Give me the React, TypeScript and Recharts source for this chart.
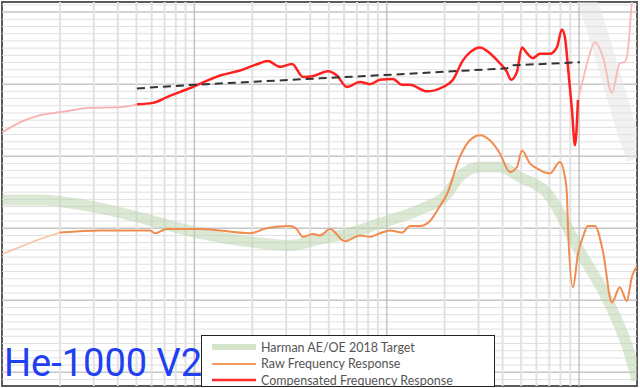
import React from 'react';
import { LineChart, Line, XAxis, YAxis, ReferenceLine, ReferenceArea } from 'recharts';

// frequency (Hz), level (dB)
const targetBand: [number, number][] = [
  [10, -6.1], [15.8, -6.1], [22.6, -6.5], [32.3, -7.2], [58.8, -8.9], [107, -10.7],
  [195, -11.9], [314, -12.4], [450, -11.5], [644, -10.7], [900, -9.4], [1489, -7.4],
  [2056, -5.3], [2400, -2.8], [3050, -1.5], [3873, -1.5], [4920, -2.9], [6800, -5.1],
  [10100, -13.2], [14460, -20.6], [18360, -27.5], [20000, -31.1],
];

const grayBand: [number, number][] = [
  [10720, 22.4], [12530, 17.1], [14130, 12.4], [15920, 7.8], [17940, 3.2], [20000, -0.3],
];

const rawFaded: [number, number][] = [
  [10, -13.6], [12.4, -12.6], [15.8, -11.5], [20, -10.6],
];

const raw: [number, number][] = [
  [20, -10.6], [32.3, -10.3], [58.8, -10.3], [62.4, -10.7], [72, -10.1], [107, -10.1],
  [195, -10.7], [238, -10.0], [314, -9.7], [340, -10.1], [367, -11.2], [413, -10.8],
  [450, -11.0], [507, -10.1], [606, -11.8], [726, -11.0], [818, -11.2], [922, -10.7],
  [1040, -10.3], [1200, -10.6], [1320, -9.7], [1489, -9.7], [1679, -9.0], [1892, -6.9],
  [2056, -5.3], [2400, -0.1], [2706, 2.2], [3050, 2.9], [3436, 2.2], [3873, 0.4],
  [4366, -2.2], [4752, -1.5], [5045, 0.8], [5550, -1.0], [6035, -1.7], [7050, -2.4],
  [7946, -0.8], [8440, -2.9], [8645, -5.3], [8754, -9.9], [9290, -18.2], [9865, -13.6],
  [10470, -11.2], [11110, -9.7], [12080, -9.7], [13300, -13.2], [14800, -20.3],
  [16290, -18.2], [17700, -20.1], [18800, -16.8], [20000, -15.3],
];

const compFadedLow: [number, number][] = [
  [10, 3.3], [12.4, 4.7], [15.8, 5.7], [20, 6.1], [28.7, 6.7], [41, 6.8], [50.3, 7.2],
];

const comp: [number, number][] = [
  [50.3, 7.2], [60.9, 7.4], [72, 8.2], [98, 9.6], [136, 11.2], [173, 11.9], [219, 12.9],
  [241, 13.2], [279, 12.4], [322, 12.8], [367, 11.0], [413, 11.1], [495, 11.8],
  [551, 11.2], [621, 9.6], [726, 10.3], [818, 10.0], [922, 10.6], [1077, 10.7],
  [1200, 9.9], [1320, 9.9], [1619, 9.0], [1960, 9.6], [2209, 10.6], [2489, 13.3],
  [2706, 14.4], [3050, 15.1], [3436, 14.3], [3873, 12.9], [4215, 11.7], [4420, 10.6],
  [4752, 11.7], [5045, 15.1], [5355, 14.3], [5754, 13.6], [6255, 14.2], [7050, 14.2],
  [7666, 15.1], [8143, 17.6], [8440, 16.5], [8754, 12.4], [9183, 6.4], [9520, 1.5],
  [9865, 7.8],
];

const compFadedHigh: [number, number][] = [
  [9865, 7.8], [10470, 10.6], [11110, 13.3], [12080, 15.8], [13300, 13.8], [14800, 8.8],
  [16290, 12.9], [17300, 13.1], [17940, 14.7], [18800, 21.2], [20000, 24.4],
];

const trend: [number, number][] = [
  [50.3, 9.4], [98, 9.9], [230, 10.4], [450, 10.8], [1437, 11.5], [4215, 12.2],
  [4475, 12.6], [10100, 13.05],
];

const minorFreqs = [20, 30, 40, 50, 60, 70, 80, 90, 200, 300, 400, 500, 600, 700, 800, 900,
  2000, 3000, 4000, 5000, 6000, 7000, 8000, 9000];
const majorFreqs = [100, 1000, 10000];
const minorDb = [-31, -29, -28, -27, -26, -25, -24, -23, -22, -21, -19, -18, -17, -16, -15,
  -14, -13, -12, -11, -9, -8, -7, -6, -5, -4, -3, -2, -1, 1, 2, 3, 4, 5, 6, 7, 8, 9, 11, 12,
  13, 14, 15, 16, 17, 18, 19, 21];
const majorDb = [-30, -20, -10, 0, 10, 20];

const legendItems = [
  { label: 'Harman AE/OE 2018 Target', color: '#d3e4ca', width: 6 },
  { label: 'Raw Frequency Response', color: '#f29a62', width: 2 },
  { label: 'Compensated Frequency Response', color: '#ff2b2b', width: 2.5 },
];

const toRows = (pts: [number, number][]) => pts.map(([f, v]) => ({ f, v }));

export default function App() {
  return (
    <div style={{ position: 'absolute', left: 0, top: 0, width: 640, height: 388, background: '#fff' }}>
      <LineChart width={640} height={388} margin={{ top: 2, right: 3, bottom: 2, left: 2 }}>
        <XAxis dataKey="f" type="number" scale="log" domain={[10, 20000]} allowDataOverflow hide />
        <YAxis type="number" domain={[-31.9, 21.4]} allowDataOverflow hide />
        {minorDb.map((d) => (
          <ReferenceLine key={'h' + d} y={d} stroke="#e0e0e0" strokeWidth={1} />
        ))}
        {majorDb.map((d) => (
          <ReferenceLine key={'H' + d} y={d} stroke="#c6c6c6" strokeWidth={1.5} />
        ))}
        {minorFreqs.map((f) => (
          <ReferenceLine key={'v' + f} x={f} stroke="#e2e2e2" strokeWidth={2} />
        ))}
        {majorFreqs.map((f) => (
          <ReferenceLine key={'V' + f} x={f} stroke="#c4c4c4" strokeWidth={1.5} />
        ))}
        <Line data={toRows(grayBand)} dataKey="v" type="monotone" stroke="#e4e4e4" strokeOpacity={0.5}
          strokeWidth={20} dot={false} isAnimationActive={false} />
        <Line data={toRows(targetBand)} dataKey="v" type="monotone" stroke="#b7d2a8" strokeOpacity={0.5}
          strokeWidth={11} dot={false} isAnimationActive={false} />
        <Line data={toRows(rawFaded)} dataKey="v" type="monotone" stroke="#f7c3a2"
          strokeWidth={1.5} dot={false} isAnimationActive={false} />
        <Line data={toRows(raw)} dataKey="v" type="monotone" stroke="#f08c4e"
          strokeWidth={2} dot={false} isAnimationActive={false} />
        <Line data={toRows(compFadedLow)} dataKey="v" type="monotone" stroke="#f7b0b0"
          strokeWidth={1.8} dot={false} isAnimationActive={false} />
        <Line data={toRows(compFadedHigh)} dataKey="v" type="monotone" stroke="#f9b8b8"
          strokeWidth={1.8} dot={false} isAnimationActive={false} />
        <Line data={toRows(comp)} dataKey="v" type="monotone" stroke="#ff2020"
          strokeWidth={2.5} dot={false} isAnimationActive={false} />
        <Line data={toRows(trend)} dataKey="v" type="linear" stroke="#333" strokeDasharray="8 5"
          strokeWidth={2} dot={false} isAnimationActive={false} />
        <ReferenceArea x1={10} x2={20000} y1={-31.9} y2={21.4} fill="none" stroke="#5a5a5a"
          strokeWidth={2} />
      </LineChart>
      <div style={{
        position: 'absolute', left: 4, top: 343, fontFamily: 'Roboto, sans-serif', fontSize: 38,
        lineHeight: '40px', color: '#1e3ff2', whiteSpace: 'nowrap',
      }}>
        He-1000 V2
      </div>
      <div style={{
        position: 'absolute', left: 201, top: 335, width: 292, height: 50, background: '#fff',
        border: '1.5px solid #222', fontFamily: 'Lato, sans-serif', fontSize: 12.5, color: '#555',
      }}>
        {legendItems.map((it, i) => (
          <div key={it.label} style={{ position: 'absolute', left: 10, top: 3 + i * 16.5, height: 16,
            display: 'flex', alignItems: 'center', whiteSpace: 'nowrap' }}>
            <svg width={44} height={10} style={{ marginRight: 5 }}>
              <line x1={0} x2={44} y1={5} y2={5} stroke={it.color} strokeWidth={it.width} />
            </svg>
            {it.label}
          </div>
        ))}
      </div>
    </div>
  );
}
